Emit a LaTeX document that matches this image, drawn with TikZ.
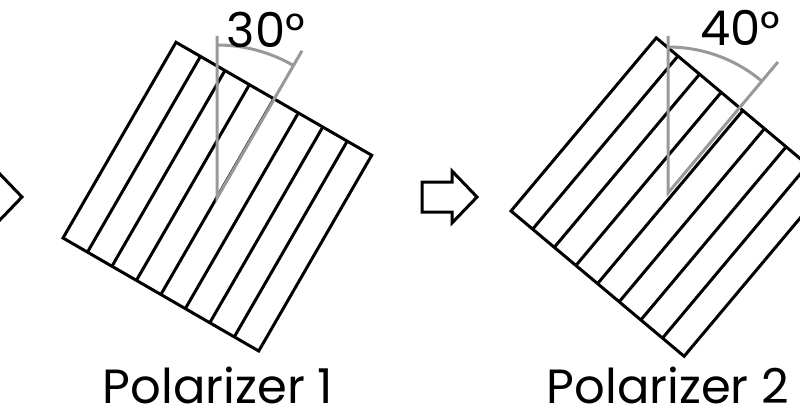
\documentclass[tikz,border=0pt]{standalone}
\usepackage{fontspec}
\setmainfont{Poppins}
\usetikzlibrary{calc}
\tikzset{edge/.style={line width=3pt,line join=miter},
 guide/.style={line width=3pt,draw=black!40},
 lbl/.style={font=\fontsize{48}{50}\selectfont,inner sep=0pt},
 arr/.style={line width=3pt,line join=miter}}
\newcommand{\polar}[4]{% left x, left y, angle, name
 \coordinate (#4L) at (#1,#2);
 \coordinate (#4A) at ($(#4L)+({226*sin(#3)},{-226*cos(#3)})$);
 \coordinate (#4B) at ($(#4L)+({226*cos(#3)},{226*sin(#3)})$);
 \coordinate (#4C) at ($(#4A)+(#4B)-(#4L)$);
 \draw[edge] (#4L)--(#4A)--(#4C)--(#4B)--cycle;
 \foreach \i in {1,...,7}{\draw[edge] ($(#4L)!\i/8!(#4B)$) -- ($(#4A)!\i/8!(#4C)$);}
}
\begin{document}
\begin{tikzpicture}[x=1pt,y=-1pt]
\useasboundingbox (0,0) rectangle (800,420);
\fill[white] (0,0) rectangle (800,420);
\begin{scope}
\clip (0,0) rectangle (800,420);
\polar{63}{238}{30}{p}
\coordinate (pc) at (217,198);
\draw[guide] (217,36) -- (pc) -- ($(pc)+({170*sin(30)},{-170*cos(30)})$);
\draw[guide] ($(pc)+(0,-153)$) arc[start angle=-90,end angle=-60,radius=153];
\node[lbl] (t1) at (266,30) {30°};
\node[lbl] (n1) at (218,385) {Polarizer 1};
\polar{511}{211}{40}{q}
\coordinate (qc) at (668,193);
\draw[guide] (668,36) -- (qc) -- ($(qc)+({171*sin(40)},{-171*cos(40)})$);
\draw[guide] ($(qc)+(0,-146)$) arc[start angle=-90,end angle=-50,radius=146];
\node[lbl] (t2) at (740,28) {40°};
\node[lbl] (n2) at (668,385) {Polarizer 2};
\draw[arr] (422,182) -- (452,182) -- (452,171) -- (477,197) -- (452,223) -- (452,212) -- (422,212) -- cycle;
\draw[arr] (-33,182) -- (-3,182) -- (-3,171) -- (22,197) -- (-3,223) -- (-3,212) -- (-33,212) -- cycle;
\end{scope}
\end{tikzpicture}
\end{document}
